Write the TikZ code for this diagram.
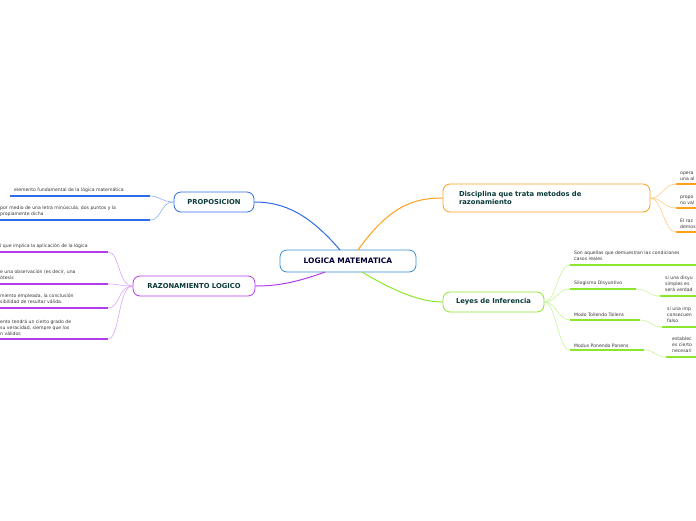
\documentclass[tikz,border=0pt]{standalone}
\usepackage{fontspec}
\setmainfont{DejaVu Sans}
\definecolor{cblue}{HTML}{2E6BE6}
\definecolor{lblue}{HTML}{8FB0F5}
\definecolor{cpur}{HTML}{B23DEB}
\definecolor{lpur}{HTML}{D9A3F5}
\definecolor{cor}{HTML}{FF9F1A}
\definecolor{lor}{HTML}{FFCC88}
\definecolor{cgr}{HTML}{8CE62E}
\definecolor{lgr}{HTML}{C4F59A}
\definecolor{ccen}{HTML}{3A8FD0}
\definecolor{tx}{HTML}{0B3A3A}
\begin{document}
\begin{tikzpicture}[x=1pt,y=-1pt,
  mainbox/.style={draw,rounded corners=7pt,line width=0.8pt,fill=white,font=\fontsize{6.8}{8}\selectfont\bfseries,text=tx,inner sep=0pt},
  leaf/.style={font=\fontsize{4.6}{6}\selectfont,text=black!80,anchor=south west,inner sep=0pt,align=left},
  ul/.style={line width=1.2pt},
  br/.style={line width=0.6pt}]
\useasboundingbox (0,0) rectangle (696,520);
\begin{scope}
\clip (0,0) rectangle (696,520);
% central
\node[mainbox,draw=ccen,text=black!80!blue,font=\fontsize{7.5}{9}\selectfont\bfseries,minimum width=136pt,minimum height=22pt] (c) at (348,261) {LOGICA MATEMATICA};
\node[mainbox,draw=cblue,minimum width=80pt,minimum height=20pt] (p) at (214,202) {PROPOSICION};
\node[mainbox,draw=cpur,minimum width=122pt,minimum height=20pt] (r) at (194,286) {RAZONAMIENTO LOGICO};
\node[mainbox,draw=cor,minimum width=207pt,minimum height=28pt,text width=175pt,inner xsep=16pt,align=left] (d) at (546.5,198) {Disciplina que trata metodos de\\razonamiento};
\node[mainbox,draw=cgr,minimum width=101pt,minimum height=20pt] (l) at (493.5,302) {Leyes de Inferencia};
% main branches
\draw[cblue,line width=1pt] (340,250) .. controls (310,215) and (285,202) .. (p.east);
\draw[cpur,line width=1pt] (325,272) .. controls (290,285) and (270,286) .. (r.east);
\draw[cor,line width=1pt] (358,250) .. controls (390,205) and (415,198) .. (d.west);
\draw[cgr,line width=1pt] (362,272) .. controls (400,295) and (425,302) .. (l.west);
% blue leaves
\coordinate (pb1) at (150,196); \coordinate (pb2) at (150,220);
\draw[cblue,ul] (10,196) -- (pb1); \draw[cblue,ul] (0,220) -- (pb2);
\draw[lblue,br] (p.west) .. controls (162,202) and (160,196) .. (pb1);
\draw[lblue,br] (p.west) .. controls (160,202) and (162,220) .. (pb2);
\node[leaf] (pt1) at (14,193) {elemento fundamental de la lógica matemática};
\node[leaf] (pt2) at (0,217) {por medio de una letra minúscula, dos puntos y la\\ propiamente dicha};
% purple leaves
\foreach \y/\n in {252/1,284/2,308/3,339/4}{\coordinate (rb\n) at (108,\y); \draw[cpur,ul] (0,\y) -- (rb\n);
 \draw[lpur,br] (r.west) .. controls (118,286) and (120,\y) .. (rb\n);}
\node[leaf] (rt1) at (0,249) {l que implica la aplicación de la lógica};
\node[leaf] (rt2) at (0,280) {e una observación (es decir, una\\ótesis};
\node[leaf] (rt3) at (0,304) {miento empleada, la conclusión\\sibilidad de resultar válida.};
\node[leaf] (rt4) at (0,336) {ento tendrá un cierto grado de\\su veracidad, siempre que los\\n válidos};
% orange leaves
\foreach \y/\n in {184/1,208/2,232/3}{\coordinate (ob\n) at (676,\y); \draw[cor,ul] (ob\n) -- (696,\y);
 \draw[lor,br] (d.east) .. controls (662,198) and (664,\y) .. (ob\n);}
\node[leaf] (ot1) at (680,181) {opera\\una al};
\node[leaf] (ot2) at (680,205) {propo\\no val};
\node[leaf] (ot3) at (680,229) {El raz\\demos};
% green leaves
\foreach \y/\n/\e in {265/1/696,289/2/636,320/3/640,350/4/644}{\coordinate (gb\n) at (570,\y); \draw[cgr,ul] (gb\n) -- (\e,\y);
 \draw[lgr,br] (l.east) .. controls (556,302) and (558,\y) .. (gb\n);}
\node[leaf] (gt1) at (574,261) {Son aquellas que demuestran las condiciones\\casos reales};
\node[leaf] (gt2) at (574,286) {Silogismo Disyuntivo};
\node[leaf] (gt3) at (574,317) {Modo Tollendo Tollens};
\node[leaf] (gt4) at (574,348) {Modus Ponendo Ponens};
\coordinate (gs2) at (660,296); \coordinate (gs3) at (662,327); \coordinate (gs4) at (666,357);
\draw[cgr,ul] (gs2) -- (696,296); \draw[cgr,ul] (gs3) -- (696,327); \draw[cgr,ul] (gs4) -- (696,357);
\draw[lgr,br] (636,289) .. controls (648,289) and (648,296) .. (gs2);
\draw[lgr,br] (640,320) .. controls (651,320) and (651,327) .. (gs3);
\draw[lgr,br] (644,350) .. controls (655,350) and (655,357) .. (gs4);
\node[leaf] (gs2t) at (665,292) {si una disyu\\simples es\\será verdad};
\node[leaf] (gs3t) at (667,323) {si una imp\\consecuen\\falso};
\node[leaf] (gs4t) at (672,353) {establec\\es cierto\\necesari};
\end{scope}
\end{tikzpicture}
\end{document}
